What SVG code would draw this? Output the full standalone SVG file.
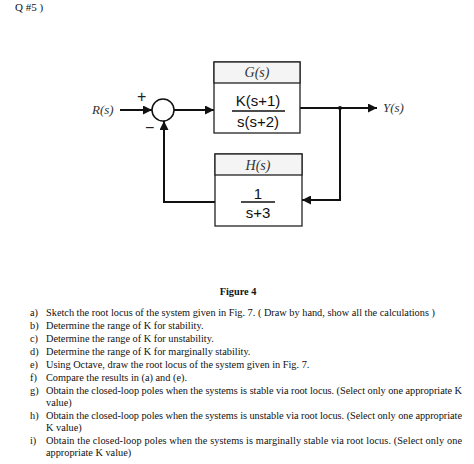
<svg xmlns="http://www.w3.org/2000/svg" width="474" height="464" viewBox="0 0 474 464">
<style>
.ln{stroke:#111;stroke-width:2;fill:none}
.box{stroke:#222;stroke-width:1.3;fill:#fff}
.hdr{stroke:#222;stroke-width:1.3;fill:#f4f4f4}
.lab{font-family:"Liberation Serif",serif;font-style:italic;font-size:13px;fill:#333}
.hw{font-family:"Liberation Sans",sans-serif;font-size:15px;fill:#111}
.tx{font-family:"Liberation Serif",serif;font-size:10.3px;fill:#111}
.sg{font-family:"Liberation Sans",sans-serif;font-size:16px;fill:#222}
</style>
<defs>
<marker id="ah" viewBox="0 0 10 10" refX="10" refY="5" markerWidth="9" markerHeight="9" markerUnits="userSpaceOnUse" orient="auto">
<path d="M0,0 L10,5 L0,10 z" fill="#111"/>
</marker>
</defs>
<rect width="474" height="464" fill="#fff"/>
<text class="tx" x="15" y="11" style="font-size:11px">Q #5 )</text>

<g id="connectors">
<line class="ln" x1="120" y1="110" x2="152" y2="110" marker-end="url(#ah)"/>
<line class="ln" x1="174" y1="110" x2="214" y2="110" marker-end="url(#ah)"/>
<line class="ln" x1="300" y1="108" x2="377" y2="108" marker-end="url(#ah)"/>
<polyline class="ln" points="340,108 340,200 302,200" marker-end="url(#ah)"/>
<polyline class="ln" points="215,202 164,202 164,121" marker-end="url(#ah)"/>
<circle cx="340" cy="108" r="2" fill="#111"/>
</g>

<g id="R">
<text class="lab" x="92" y="114">R(s)</text>
</g>
<g id="Y">
<text class="lab" x="383" y="112">Y(s)</text>
</g>

<g id="sum">
<circle cx="163" cy="110" r="11" fill="#fff" stroke="#111" stroke-width="1.5"/>
<text class="sg" x="137" y="102">+</text>
<text class="sg" x="145" y="133">−</text>
</g>

<g id="G">
<rect class="box" x="214" y="62" width="86" height="71"/>
<rect class="hdr" x="214" y="62" width="86" height="21"/>
<text class="lab" x="257" y="77" text-anchor="middle" style="font-size:14px">G(s)</text>
<text class="hw" x="258" y="106" text-anchor="middle">K(s+1)</text>
<line x1="232" y1="111" x2="285" y2="111" stroke="#111" stroke-width="1.5"/>
<text class="hw" x="258" y="127" text-anchor="middle">s(s+2)</text>
</g>

<g id="H">
<rect class="box" x="215" y="154" width="87" height="72"/>
<rect class="hdr" x="215" y="154" width="87" height="21"/>
<text class="lab" x="258" y="170" text-anchor="middle" style="font-size:14px">H(s)</text>
<text class="hw" x="258" y="199" text-anchor="middle">1</text>
<line x1="241" y1="202" x2="275" y2="202" stroke="#111" stroke-width="1.5"/>
<text class="hw" x="258" y="218" text-anchor="middle">s+3</text>
</g>

<g id="caption">
<text class="tx" x="238" y="295" text-anchor="middle" font-weight="bold">Figure 4</text>
<text class="tx" x="30" y="316">a)</text>
<text class="tx" x="46" y="316">Sketch the root locus of the system given in Fig. 7. ( Draw by hand, show all the calculations )</text>
<text class="tx" x="30" y="329">b)</text>
<text class="tx" x="46" y="329">Determine the range of K for stability.</text>
<text class="tx" x="30" y="342">c)</text>
<text class="tx" x="46" y="342">Determine the range of K for unstability.</text>
<text class="tx" x="30" y="355">d)</text>
<text class="tx" x="46" y="355">Determine the range of K for marginally stability.</text>
<text class="tx" x="30" y="368">e)</text>
<text class="tx" x="46" y="368">Using Octave, draw the root locus of the system given in Fig. 7.</text>
<text class="tx" x="30" y="381">f)</text>
<text class="tx" x="46" y="381">Compare the results in (a) and (e).</text>
<text class="tx" x="30" y="394">g)</text>
<text class="tx" x="46" y="394" textLength="416" lengthAdjust="spacing">Obtain the closed-loop poles when the systems is stable via root locus. (Select only one appropriate K</text>
<text class="tx" x="46" y="406">value)</text>
<text class="tx" x="30" y="419">h)</text>
<text class="tx" x="46" y="419" textLength="416" lengthAdjust="spacing">Obtain the closed-loop poles when the systems is unstable via root locus. (Select only one appropriate</text>
<text class="tx" x="46" y="431">K value)</text>
<text class="tx" x="30" y="444">i)</text>
<text class="tx" x="46" y="444" textLength="416" lengthAdjust="spacing">Obtain the closed-loop poles when the systems is marginally stable via root locus. (Select only one</text>
<text class="tx" x="46" y="456">appropriate K value)</text>
</g>
</svg>
